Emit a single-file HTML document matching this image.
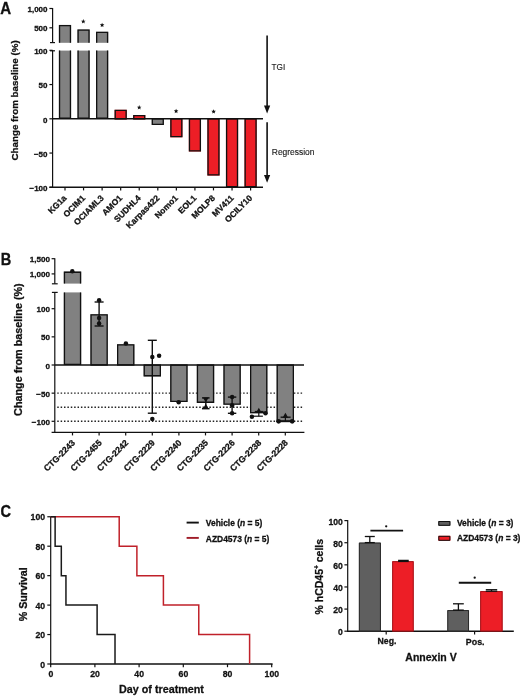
<!DOCTYPE html>
<html><head><meta charset="utf-8"><title>Figure</title>
<style>html,body{margin:0;padding:0;background:#fff;overflow:hidden;}svg{display:block;font-family:"Liberation Sans", Arial, sans-serif;}text{stroke:#111;stroke-width:0.28px;}</style>
</head><body>
<svg width="520" height="697" viewBox="0 0 520 697">
<rect width="520" height="697" fill="#fff"/>
<text font-size="14.6" font-weight="bold" fill="#111" transform="translate(0.3,13.8) scale(1.03,1.1)">A</text>
<text font-size="9.8" font-weight="bold" text-anchor="middle" fill="#111" transform="translate(18.2,100.4) rotate(-90)">Change from baseline (%)</text>
<line x1="52.6" y1="7.9" x2="52.6" y2="42.6" stroke="#111" stroke-width="1.2" />
<line x1="49.4" y1="8.5" x2="52.6" y2="8.5" stroke="#111" stroke-width="1.2" />
<text x="47.5" y="11.9" font-size="8.0" font-weight="bold" text-anchor="end" fill="#111" >1,000</text>
<line x1="49.4" y1="27.8" x2="52.6" y2="27.8" stroke="#111" stroke-width="1.2" />
<text x="47.5" y="31.2" font-size="8.0" font-weight="bold" text-anchor="end" fill="#111" >500</text>
<line x1="50" y1="42.6" x2="55" y2="42.6" stroke="#111" stroke-width="1.2" />
<line x1="52.6" y1="50.2" x2="52.6" y2="187.9" stroke="#111" stroke-width="1.2" />
<line x1="50" y1="50.8" x2="55" y2="50.8" stroke="#111" stroke-width="1.2" />
<line x1="49.4" y1="50.3" x2="52.6" y2="50.3" stroke="#111" stroke-width="1.2" />
<text x="47.5" y="54" font-size="8.0" font-weight="bold" text-anchor="end" fill="#111" >100</text>
<line x1="49.4" y1="84.55" x2="52.6" y2="84.55" stroke="#111" stroke-width="1.2" />
<text x="47.5" y="88.25" font-size="8.0" font-weight="bold" text-anchor="end" fill="#111" >50</text>
<line x1="49.4" y1="118.8" x2="52.6" y2="118.8" stroke="#111" stroke-width="1.2" />
<text x="47.5" y="122.5" font-size="8.0" font-weight="bold" text-anchor="end" fill="#111" >0</text>
<line x1="49.4" y1="153.05" x2="52.6" y2="153.05" stroke="#111" stroke-width="1.2" />
<text x="47.5" y="156.75" font-size="8.0" font-weight="bold" text-anchor="end" fill="#111" >−50</text>
<line x1="49.4" y1="187.3" x2="52.6" y2="187.3" stroke="#111" stroke-width="1.2" />
<text x="47.5" y="191" font-size="8.0" font-weight="bold" text-anchor="end" fill="#111" >−100</text>
<rect x="58.9" y="24.9" width="12.2" height="17.9" fill="#818181"/>
<path d="M59.55,42.8 L59.55,25.55 L70.45,25.55 L70.45,42.8" fill="none" stroke="#111" stroke-width="1.3"/>
<rect x="58.9" y="50.6" width="12.2" height="68.2" fill="#818181"/>
<path d="M59.55,50.6 L59.55,118.15 L70.45,118.15 L70.45,118.15 L70.45,50.6" fill="none" stroke="#111" stroke-width="1.3"/>
<line x1="65" y1="187.3" x2="65" y2="190.4" stroke="#111" stroke-width="1.2" />
<text font-size="8.5" font-weight="bold" text-anchor="end" fill="#111" transform="translate(67.2,198.6) rotate(-45)">KG1a</text>
<rect x="77.46" y="29.4" width="12.2" height="13.4" fill="#818181"/>
<path d="M78.11,42.8 L78.11,30.05 L89.01,30.05 L89.01,42.8" fill="none" stroke="#111" stroke-width="1.3"/>
<rect x="77.46" y="50.6" width="12.2" height="68.2" fill="#818181"/>
<path d="M78.11,50.6 L78.11,118.15 L89.01,118.15 L89.01,118.15 L89.01,50.6" fill="none" stroke="#111" stroke-width="1.3"/>
<line x1="83.56" y1="187.3" x2="83.56" y2="190.4" stroke="#111" stroke-width="1.2" />
<text font-size="8.5" font-weight="bold" text-anchor="end" fill="#111" transform="translate(85.76,198.6) rotate(-45)">OCIM1</text>
<rect x="96.02" y="31.8" width="12.2" height="11" fill="#818181"/>
<path d="M96.67,42.8 L96.67,32.45 L107.57,32.45 L107.57,42.8" fill="none" stroke="#111" stroke-width="1.3"/>
<rect x="96.02" y="50.6" width="12.2" height="68.2" fill="#818181"/>
<path d="M96.67,50.6 L96.67,118.15 L107.57,118.15 L107.57,118.15 L107.57,50.6" fill="none" stroke="#111" stroke-width="1.3"/>
<line x1="102.12" y1="187.3" x2="102.12" y2="190.4" stroke="#111" stroke-width="1.2" />
<text font-size="8.5" font-weight="bold" text-anchor="end" fill="#111" transform="translate(104.32,198.6) rotate(-45)">OCIAML3</text>
<rect x="114.58" y="109.8" width="12.2" height="9.6" fill="#ed1e26"/>
<path d="M115.23,110.45 L126.13,110.45 L126.13,118.75 L115.23,118.75 Z" fill="none" stroke="#111" stroke-width="1.3"/>
<line x1="120.68" y1="187.3" x2="120.68" y2="190.4" stroke="#111" stroke-width="1.2" />
<text font-size="8.5" font-weight="bold" text-anchor="end" fill="#111" transform="translate(122.88,198.6) rotate(-45)">AMO1</text>
<rect x="133.14" y="115" width="12.2" height="4.4" fill="#ed1e26"/>
<path d="M133.79,115.65 L144.69,115.65 L144.69,118.75 L133.79,118.75 Z" fill="none" stroke="#111" stroke-width="1.3"/>
<line x1="139.24" y1="187.3" x2="139.24" y2="190.4" stroke="#111" stroke-width="1.2" />
<text font-size="8.5" font-weight="bold" text-anchor="end" fill="#111" transform="translate(141.44,198.6) rotate(-45)">SUDHL4</text>
<rect x="151.7" y="118.2" width="12.2" height="6.8" fill="#818181"/>
<path d="M152.35,118.85 L163.25,118.85 L163.25,124.35 L152.35,124.35 Z" fill="none" stroke="#111" stroke-width="1.3"/>
<line x1="157.8" y1="187.3" x2="157.8" y2="190.4" stroke="#111" stroke-width="1.2" />
<text font-size="8.5" font-weight="bold" text-anchor="end" fill="#111" transform="translate(160,198.6) rotate(-45)">Karpas422</text>
<rect x="170.26" y="118.2" width="12.2" height="19.1" fill="#ed1e26"/>
<path d="M170.91,118.85 L181.81,118.85 L181.81,136.65 L170.91,136.65 Z" fill="none" stroke="#111" stroke-width="1.3"/>
<line x1="176.36" y1="187.3" x2="176.36" y2="190.4" stroke="#111" stroke-width="1.2" />
<text font-size="8.5" font-weight="bold" text-anchor="end" fill="#111" transform="translate(178.56,198.6) rotate(-45)">Nomo1</text>
<rect x="188.82" y="118.2" width="12.2" height="33.3" fill="#ed1e26"/>
<path d="M189.47,118.85 L200.37,118.85 L200.37,150.85 L189.47,150.85 Z" fill="none" stroke="#111" stroke-width="1.3"/>
<line x1="194.92" y1="187.3" x2="194.92" y2="190.4" stroke="#111" stroke-width="1.2" />
<text font-size="8.5" font-weight="bold" text-anchor="end" fill="#111" transform="translate(197.12,198.6) rotate(-45)">EOL1</text>
<rect x="207.38" y="118.2" width="12.2" height="57.4" fill="#ed1e26"/>
<path d="M208.03,118.85 L218.93,118.85 L218.93,174.95 L208.03,174.95 Z" fill="none" stroke="#111" stroke-width="1.3"/>
<line x1="213.48" y1="187.3" x2="213.48" y2="190.4" stroke="#111" stroke-width="1.2" />
<text font-size="8.5" font-weight="bold" text-anchor="end" fill="#111" transform="translate(215.68,198.6) rotate(-45)">MOLP8</text>
<rect x="225.94" y="118.2" width="12.2" height="69.2" fill="#ed1e26"/>
<path d="M226.59,118.85 L237.49,118.85 L237.49,186.75 L226.59,186.75 Z" fill="none" stroke="#111" stroke-width="1.3"/>
<line x1="232.04" y1="187.3" x2="232.04" y2="190.4" stroke="#111" stroke-width="1.2" />
<text font-size="8.5" font-weight="bold" text-anchor="end" fill="#111" transform="translate(234.24,198.6) rotate(-45)">MV411</text>
<rect x="244.5" y="118.2" width="12.2" height="69.2" fill="#ed1e26"/>
<path d="M245.15,118.85 L256.05,118.85 L256.05,186.75 L245.15,186.75 Z" fill="none" stroke="#111" stroke-width="1.3"/>
<line x1="250.6" y1="187.3" x2="250.6" y2="190.4" stroke="#111" stroke-width="1.2" />
<text font-size="8.5" font-weight="bold" text-anchor="end" fill="#111" transform="translate(252.8,198.6) rotate(-45)">OCILY10</text>
<line x1="52.6" y1="118.8" x2="263" y2="118.8" stroke="#111" stroke-width="1.4" />
<line x1="49.4" y1="187.3" x2="263" y2="187.3" stroke="#111" stroke-width="1.4" />
<polygon points="83.3,19.1 83.93,20.63 85.58,20.76 84.33,21.83 84.71,23.44 83.3,22.58 81.89,23.44 82.27,21.83 81.02,20.76 82.67,20.63" fill="#111"/>
<polygon points="102.1,22.7 102.73,24.23 104.38,24.36 103.13,25.43 103.51,27.04 102.1,26.18 100.69,27.04 101.07,25.43 99.82,24.36 101.47,24.23" fill="#111"/>
<polygon points="139.2,105.1 139.83,106.63 141.48,106.76 140.23,107.83 140.61,109.44 139.2,108.58 137.79,109.44 138.17,107.83 136.92,106.76 138.57,106.63" fill="#111"/>
<polygon points="176.1,108.8 176.73,110.33 178.38,110.46 177.13,111.53 177.51,113.14 176.1,112.28 174.69,113.14 175.07,111.53 173.82,110.46 175.47,110.33" fill="#111"/>
<polygon points="213.6,109.2 214.23,110.73 215.88,110.86 214.63,111.93 215.01,113.54 213.6,112.68 212.19,113.54 212.57,111.93 211.32,110.86 212.97,110.73" fill="#111"/>
<line x1="267.1" y1="35.4" x2="267.1" y2="108.4" stroke="#000" stroke-width="1.5" />
<polygon points="264,105.6 270.2,105.6 267.1,113.4" fill="#111"/>
<line x1="267.1" y1="122.3" x2="267.1" y2="177.8" stroke="#000" stroke-width="1.5" />
<polygon points="264,175 270.2,175 267.1,182.8" fill="#111"/>
<text x="271.6" y="69.6" font-size="8.2" font-weight="normal" text-anchor="start" fill="#222" style="stroke-width:0.12px">TGI</text>
<text x="271.8" y="154.9" font-size="8.45" font-weight="normal" text-anchor="start" fill="#222" style="stroke-width:0.12px">Regression</text>
<text font-size="14.6" font-weight="bold" fill="#111" transform="translate(0.7,264.8) scale(1,1.1)">B</text>
<text font-size="10.8" font-weight="bold" text-anchor="middle" fill="#111" transform="translate(22.4,349.6) rotate(-90)">Change from baseline (%)</text>
<line x1="54.8" y1="258.3" x2="54.8" y2="283.8" stroke="#111" stroke-width="1.2" />
<line x1="51.6" y1="258.7" x2="54.8" y2="258.7" stroke="#111" stroke-width="1.2" />
<text x="50" y="262.2" font-size="8.1" font-weight="bold" text-anchor="end" fill="#111" >1,500</text>
<line x1="51.6" y1="273.9" x2="54.8" y2="273.9" stroke="#111" stroke-width="1.2" />
<text x="50" y="277.4" font-size="8.1" font-weight="bold" text-anchor="end" fill="#111" >1,000</text>
<line x1="51.9" y1="283.8" x2="57.7" y2="283.8" stroke="#111" stroke-width="1.2" />
<line x1="54.8" y1="292.2" x2="54.8" y2="432.9" stroke="#111" stroke-width="1.2" />
<line x1="51.9" y1="292.4" x2="57.7" y2="292.4" stroke="#111" stroke-width="1.2" />
<line x1="51.6" y1="308.7" x2="54.8" y2="308.7" stroke="#111" stroke-width="1.2" />
<text x="50" y="312.2" font-size="8.1" font-weight="bold" text-anchor="end" fill="#111" >100</text>
<line x1="51.6" y1="336.85" x2="54.8" y2="336.85" stroke="#111" stroke-width="1.2" />
<text x="50" y="340.35" font-size="8.1" font-weight="bold" text-anchor="end" fill="#111" >50</text>
<line x1="51.6" y1="365" x2="54.8" y2="365" stroke="#111" stroke-width="1.2" />
<text x="50" y="368.5" font-size="8.1" font-weight="bold" text-anchor="end" fill="#111" >0</text>
<line x1="51.6" y1="393.15" x2="54.8" y2="393.15" stroke="#111" stroke-width="1.2" />
<text x="50" y="396.65" font-size="8.1" font-weight="bold" text-anchor="end" fill="#111" >−50</text>
<line x1="51.6" y1="421.3" x2="54.8" y2="421.3" stroke="#111" stroke-width="1.2" />
<text x="50" y="424.8" font-size="8.1" font-weight="bold" text-anchor="end" fill="#111" >−100</text>
<line x1="57.25" y1="393.15" x2="304" y2="393.15" stroke="#222" stroke-width="1.4" stroke-dasharray="1.5,1.88"/>
<line x1="57.25" y1="407.23" x2="304" y2="407.23" stroke="#222" stroke-width="1.4" stroke-dasharray="1.5,1.88"/>
<line x1="57.25" y1="421.3" x2="304" y2="421.3" stroke="#222" stroke-width="1.4" stroke-dasharray="1.5,1.88"/>
<rect x="63.8" y="271.6" width="17.4" height="12" fill="#818181"/>
<path d="M64.45,283.6 L64.45,272.25 L80.55,272.25 L80.55,283.6" fill="none" stroke="#111" stroke-width="1.3"/>
<rect x="63.8" y="292.4" width="17.4" height="72.6" fill="#818181"/>
<path d="M64.45,292.4 L64.45,364.35 L80.55,364.35 L80.55,364.35 L80.55,292.4" fill="none" stroke="#111" stroke-width="1.3"/>
<line x1="72.5" y1="432.4" x2="72.5" y2="435.4" stroke="#111" stroke-width="1.2" />
<text font-size="8.6" font-weight="bold" text-anchor="end" fill="#111" transform="translate(75.7,443.4) rotate(-45)">CTG-2243</text>
<rect x="90.4" y="314.2" width="17.4" height="51.4" fill="#818181"/>
<path d="M91.05,314.85 L107.15,314.85 L107.15,364.95 L91.05,364.95 Z" fill="none" stroke="#111" stroke-width="1.3"/>
<line x1="99.1" y1="432.4" x2="99.1" y2="435.4" stroke="#111" stroke-width="1.2" />
<text font-size="8.6" font-weight="bold" text-anchor="end" fill="#111" transform="translate(102.3,443.4) rotate(-45)">CTG-2455</text>
<rect x="117" y="344.2" width="17.4" height="21.4" fill="#818181"/>
<path d="M117.65,344.85 L133.75,344.85 L133.75,364.95 L117.65,364.95 Z" fill="none" stroke="#111" stroke-width="1.3"/>
<line x1="125.7" y1="432.4" x2="125.7" y2="435.4" stroke="#111" stroke-width="1.2" />
<text font-size="8.6" font-weight="bold" text-anchor="end" fill="#111" transform="translate(128.9,443.4) rotate(-45)">CTG-2242</text>
<rect x="143.6" y="364.4" width="17.4" height="12" fill="#818181"/>
<path d="M144.25,365.05 L160.35,365.05 L160.35,375.75 L144.25,375.75 Z" fill="none" stroke="#111" stroke-width="1.3"/>
<line x1="152.3" y1="432.4" x2="152.3" y2="435.4" stroke="#111" stroke-width="1.2" />
<text font-size="8.6" font-weight="bold" text-anchor="end" fill="#111" transform="translate(155.5,443.4) rotate(-45)">CTG-2229</text>
<rect x="170.2" y="364.4" width="17.4" height="37.6" fill="#818181"/>
<path d="M170.85,365.05 L186.95,365.05 L186.95,401.35 L170.85,401.35 Z" fill="none" stroke="#111" stroke-width="1.3"/>
<line x1="178.9" y1="432.4" x2="178.9" y2="435.4" stroke="#111" stroke-width="1.2" />
<text font-size="8.6" font-weight="bold" text-anchor="end" fill="#111" transform="translate(182.1,443.4) rotate(-45)">CTG-2240</text>
<rect x="196.8" y="364.4" width="17.4" height="38.5" fill="#818181"/>
<path d="M197.45,365.05 L213.55,365.05 L213.55,402.25 L197.45,402.25 Z" fill="none" stroke="#111" stroke-width="1.3"/>
<line x1="205.5" y1="432.4" x2="205.5" y2="435.4" stroke="#111" stroke-width="1.2" />
<text font-size="8.6" font-weight="bold" text-anchor="end" fill="#111" transform="translate(208.7,443.4) rotate(-45)">CTG-2235</text>
<rect x="223.4" y="364.4" width="17.4" height="40.4" fill="#818181"/>
<path d="M224.05,365.05 L240.15,365.05 L240.15,404.15 L224.05,404.15 Z" fill="none" stroke="#111" stroke-width="1.3"/>
<line x1="232.1" y1="432.4" x2="232.1" y2="435.4" stroke="#111" stroke-width="1.2" />
<text font-size="8.6" font-weight="bold" text-anchor="end" fill="#111" transform="translate(235.3,443.4) rotate(-45)">CTG-2226</text>
<rect x="250" y="364.4" width="17.4" height="48.9" fill="#818181"/>
<path d="M250.65,365.05 L266.75,365.05 L266.75,412.65 L250.65,412.65 Z" fill="none" stroke="#111" stroke-width="1.3"/>
<line x1="258.7" y1="432.4" x2="258.7" y2="435.4" stroke="#111" stroke-width="1.2" />
<text font-size="8.6" font-weight="bold" text-anchor="end" fill="#111" transform="translate(261.9,443.4) rotate(-45)">CTG-2238</text>
<rect x="276.6" y="364.4" width="17.4" height="57.5" fill="#818181"/>
<path d="M277.25,365.05 L293.35,365.05 L293.35,421.25 L277.25,421.25 Z" fill="none" stroke="#111" stroke-width="1.3"/>
<line x1="285.3" y1="432.4" x2="285.3" y2="435.4" stroke="#111" stroke-width="1.2" />
<text font-size="8.6" font-weight="bold" text-anchor="end" fill="#111" transform="translate(288.5,443.4) rotate(-45)">CTG-2228</text>
<line x1="54.8" y1="365" x2="304" y2="365" stroke="#111" stroke-width="1.4" />
<line x1="51.6" y1="432.4" x2="304.4" y2="432.4" stroke="#111" stroke-width="1.4" />
<circle cx="72.3" cy="271.3" r="2.25" fill="#111"/>
<line x1="99.1" y1="302" x2="99.1" y2="326" stroke="#111" stroke-width="1.4" />
<line x1="94.6" y1="302" x2="103.6" y2="302" stroke="#111" stroke-width="1.4" />
<line x1="94.6" y1="326" x2="103.6" y2="326" stroke="#111" stroke-width="1.4" />
<circle cx="99.1" cy="300.2" r="2.25" fill="#111"/>
<circle cx="99.1" cy="318.1" r="2.25" fill="#111"/>
<circle cx="99.1" cy="323.4" r="2.25" fill="#111"/>
<circle cx="125.9" cy="343.5" r="2.25" fill="#111"/>
<line x1="152.3" y1="340.3" x2="152.3" y2="413.2" stroke="#111" stroke-width="1.4" />
<line x1="147.8" y1="340.3" x2="156.8" y2="340.3" stroke="#111" stroke-width="1.4" />
<line x1="147.8" y1="413.2" x2="156.8" y2="413.2" stroke="#111" stroke-width="1.4" />
<circle cx="152.3" cy="357" r="2.25" fill="#111"/>
<circle cx="159.1" cy="355.8" r="2.25" fill="#111"/>
<circle cx="152.3" cy="418.9" r="2.25" fill="#111"/>
<circle cx="178.7" cy="402.2" r="2.25" fill="#111"/>
<line x1="205.8" y1="397.9" x2="205.8" y2="408.7" stroke="#111" stroke-width="1.4" />
<line x1="202" y1="397.9" x2="209.6" y2="397.9" stroke="#111" stroke-width="1.4" />
<line x1="202" y1="408.7" x2="209.6" y2="408.7" stroke="#111" stroke-width="1.4" />
<polygon points="202.9,397.43 208.7,397.43 205.8,402.5" fill="#111"/>
<polygon points="202.9,408.78 208.7,408.78 205.8,403.7" fill="#111"/>
<line x1="232.1" y1="397.1" x2="232.1" y2="413.3" stroke="#111" stroke-width="1.4" />
<line x1="227.9" y1="397.1" x2="236.3" y2="397.1" stroke="#111" stroke-width="1.4" />
<line x1="227.9" y1="413.3" x2="236.3" y2="413.3" stroke="#111" stroke-width="1.4" />
<circle cx="232.1" cy="397.1" r="2.25" fill="#111"/>
<circle cx="232.1" cy="405.2" r="2.25" fill="#111"/>
<circle cx="232.1" cy="413.3" r="2.25" fill="#111"/>
<line x1="258.8" y1="409.5" x2="258.8" y2="416.2" stroke="#111" stroke-width="1.2" />
<line x1="254.8" y1="411.5" x2="263.5" y2="411.5" stroke="#111" stroke-width="1.2" />
<line x1="251.3" y1="416.2" x2="262.9" y2="416.2" stroke="#111" stroke-width="1.2" />
<polygon points="256,412.7 261.6,412.7 258.8,407.8" fill="#111"/>
<circle cx="251.9" cy="416.7" r="2.25" fill="#111"/>
<circle cx="265.5" cy="413.3" r="2.25" fill="#111"/>
<line x1="285.4" y1="415" x2="285.4" y2="421.5" stroke="#111" stroke-width="1.2" />
<line x1="280.6" y1="417.2" x2="290.6" y2="417.2" stroke="#111" stroke-width="1.4" />
<line x1="278.6" y1="421.3" x2="292.2" y2="421.3" stroke="#111" stroke-width="1.8" />
<polygon points="282.6,417.7 288.2,417.7 285.4,412.8" fill="#111"/>
<circle cx="278.6" cy="421.3" r="2.4" fill="#111"/>
<circle cx="292.2" cy="421.3" r="2.4" fill="#111"/>
<text font-size="14.6" font-weight="bold" fill="#111" transform="translate(0.5,516.9) scale(1,1.1)">C</text>
<line x1="50.7" y1="516.4" x2="50.7" y2="664.6" stroke="#111" stroke-width="1.2" />
<line x1="47.3" y1="664" x2="50.7" y2="664" stroke="#111" stroke-width="1.2" />
<text x="45.1" y="667.5" font-size="8.7" font-weight="bold" text-anchor="end" fill="#111" >0</text>
<line x1="47.3" y1="634.55" x2="50.7" y2="634.55" stroke="#111" stroke-width="1.2" />
<text x="45.1" y="638.05" font-size="8.7" font-weight="bold" text-anchor="end" fill="#111" >20</text>
<line x1="47.3" y1="605.1" x2="50.7" y2="605.1" stroke="#111" stroke-width="1.2" />
<text x="45.1" y="608.6" font-size="8.7" font-weight="bold" text-anchor="end" fill="#111" >40</text>
<line x1="47.3" y1="575.65" x2="50.7" y2="575.65" stroke="#111" stroke-width="1.2" />
<text x="45.1" y="579.15" font-size="8.7" font-weight="bold" text-anchor="end" fill="#111" >60</text>
<line x1="47.3" y1="546.2" x2="50.7" y2="546.2" stroke="#111" stroke-width="1.2" />
<text x="45.1" y="549.7" font-size="8.7" font-weight="bold" text-anchor="end" fill="#111" >80</text>
<line x1="47.3" y1="516.75" x2="50.7" y2="516.75" stroke="#111" stroke-width="1.2" />
<text x="45.1" y="520.25" font-size="8.7" font-weight="bold" text-anchor="end" fill="#111" >100</text>
<line x1="50.1" y1="664" x2="272.6" y2="664" stroke="#111" stroke-width="1.4" />
<line x1="50.7" y1="664" x2="50.7" y2="667.2" stroke="#111" stroke-width="1.2" />
<text x="50.8" y="677.3" font-size="8.7" font-weight="bold" text-anchor="middle" fill="#111" >0</text>
<line x1="94.9" y1="664" x2="94.9" y2="667.2" stroke="#111" stroke-width="1.2" />
<text x="95" y="677.3" font-size="8.7" font-weight="bold" text-anchor="middle" fill="#111" >20</text>
<line x1="139.1" y1="664" x2="139.1" y2="667.2" stroke="#111" stroke-width="1.2" />
<text x="139.2" y="677.3" font-size="8.7" font-weight="bold" text-anchor="middle" fill="#111" >40</text>
<line x1="183.3" y1="664" x2="183.3" y2="667.2" stroke="#111" stroke-width="1.2" />
<text x="183.4" y="677.3" font-size="8.7" font-weight="bold" text-anchor="middle" fill="#111" >60</text>
<line x1="227.5" y1="664" x2="227.5" y2="667.2" stroke="#111" stroke-width="1.2" />
<text x="227.6" y="677.3" font-size="8.7" font-weight="bold" text-anchor="middle" fill="#111" >80</text>
<line x1="271.7" y1="664" x2="271.7" y2="667.2" stroke="#111" stroke-width="1.2" />
<text x="271.8" y="677.3" font-size="8.7" font-weight="bold" text-anchor="middle" fill="#111" >100</text>
<text font-size="10.7" font-weight="bold" text-anchor="middle" fill="#111" transform="translate(26.6,594.3) rotate(-90)">% Survival</text>
<text x="161.5" y="692.6" font-size="10.75" font-weight="bold" text-anchor="middle" fill="#111" >Day of treatment</text>
<polyline points="50.7,516.75 119.21,516.75 119.21,546.2 136.89,546.2 136.89,575.65 163.41,575.65 163.41,605.1 198.77,605.1 198.77,634.55 249.6,634.55 249.6,664" fill="none" stroke="#c0212a" stroke-width="1.5"/>
<polyline points="50.7,516.75 55.12,516.75 55.12,546.2 61.31,546.2 61.31,575.65 65.95,575.65 65.95,605.1 97.11,605.1 97.11,634.55 115.01,634.55 115.01,664" fill="none" stroke="#1a1a1a" stroke-width="1.5"/>
<line x1="186.6" y1="522.6" x2="198.8" y2="522.6" stroke="#111" stroke-width="1.9" />
<line x1="186.6" y1="537.9" x2="198.8" y2="537.9" stroke="#a01c28" stroke-width="1.9" />
<text x="205.8" y="525.9" font-size="8.45" font-weight="bold" text-anchor="start" fill="#111" >Vehicle (<tspan font-style="italic">n</tspan> = 5)</text>
<text x="205.8" y="541.6" font-size="8.45" font-weight="bold" text-anchor="start" fill="#111" >AZD4573 (<tspan font-style="italic">n</tspan> = 5)</text>
<line x1="347.7" y1="520" x2="347.7" y2="631.8" stroke="#111" stroke-width="1.2" />
<line x1="344.4" y1="631.2" x2="347.7" y2="631.2" stroke="#111" stroke-width="1.2" />
<text x="342.9" y="635.3" font-size="8.6" font-weight="bold" text-anchor="end" fill="#111" >0</text>
<line x1="344.4" y1="609.08" x2="347.7" y2="609.08" stroke="#111" stroke-width="1.2" />
<text x="342.9" y="613.18" font-size="8.6" font-weight="bold" text-anchor="end" fill="#111" >20</text>
<line x1="344.4" y1="586.96" x2="347.7" y2="586.96" stroke="#111" stroke-width="1.2" />
<text x="342.9" y="591.06" font-size="8.6" font-weight="bold" text-anchor="end" fill="#111" >40</text>
<line x1="344.4" y1="564.84" x2="347.7" y2="564.84" stroke="#111" stroke-width="1.2" />
<text x="342.9" y="568.94" font-size="8.6" font-weight="bold" text-anchor="end" fill="#111" >60</text>
<line x1="344.4" y1="542.72" x2="347.7" y2="542.72" stroke="#111" stroke-width="1.2" />
<text x="342.9" y="546.82" font-size="8.6" font-weight="bold" text-anchor="end" fill="#111" >80</text>
<line x1="344.4" y1="520.6" x2="347.7" y2="520.6" stroke="#111" stroke-width="1.2" />
<text x="342.9" y="524.7" font-size="8.6" font-weight="bold" text-anchor="end" fill="#111" >100</text>
<line x1="347.1" y1="631.2" x2="513.8" y2="631.2" stroke="#111" stroke-width="1.4" />
<rect x="358.9" y="542.6" width="22" height="88.8" fill="#5f5f5f"/>
<path d="M359.35,543.05 L380.45,543.05 L380.45,630.95 L359.35,630.95 Z" fill="none" stroke="#222" stroke-width="0.9"/>
<rect x="392.2" y="561.2" width="21.5" height="70.2" fill="#ed1e26"/>
<path d="M392.65,561.65 L413.25,561.65 L413.25,630.95 L392.65,630.95 Z" fill="none" stroke="#9a1218" stroke-width="0.9"/>
<rect x="447.3" y="610.1" width="21.7" height="21.3" fill="#5f5f5f"/>
<path d="M447.75,610.55 L468.55,610.55 L468.55,630.95 L447.75,630.95 Z" fill="none" stroke="#222" stroke-width="0.9"/>
<rect x="480.2" y="591.1" width="22.4" height="40.3" fill="#ed1e26"/>
<path d="M480.65,591.55 L502.15,591.55 L502.15,630.95 L480.65,630.95 Z" fill="none" stroke="#9a1218" stroke-width="0.9"/>
<line x1="369.8" y1="536.5" x2="369.8" y2="542.6" stroke="#111" stroke-width="1.3" />
<line x1="364.8" y1="536.5" x2="374.8" y2="536.5" stroke="#111" stroke-width="1.3" />
<line x1="364.8" y1="542.6" x2="374.8" y2="542.6" stroke="#111" stroke-width="1.3" />
<line x1="403.4" y1="560.4" x2="403.4" y2="561.4" stroke="#111" stroke-width="1.3" />
<line x1="398.1" y1="560.4" x2="408.7" y2="560.4" stroke="#111" stroke-width="1.3" />
<line x1="398.1" y1="561.4" x2="408.7" y2="561.4" stroke="#111" stroke-width="1.3" />
<line x1="458.4" y1="603.8" x2="458.4" y2="610.1" stroke="#111" stroke-width="1.3" />
<line x1="453" y1="603.8" x2="463.8" y2="603.8" stroke="#111" stroke-width="1.3" />
<line x1="453" y1="610.1" x2="463.8" y2="610.1" stroke="#111" stroke-width="1.3" />
<line x1="491.5" y1="589.7" x2="491.5" y2="591.2" stroke="#111" stroke-width="1.3" />
<line x1="485.8" y1="589.7" x2="497.2" y2="589.7" stroke="#111" stroke-width="1.3" />
<line x1="485.8" y1="591.2" x2="497.2" y2="591.2" stroke="#111" stroke-width="1.3" />
<line x1="370.4" y1="530.6" x2="403.1" y2="530.6" stroke="#111" stroke-width="1.9" />
<line x1="458.8" y1="582.8" x2="491.2" y2="582.8" stroke="#111" stroke-width="1.9" />
<circle cx="386.2" cy="526.3" r="1.15" fill="#111"/>
<circle cx="474.7" cy="577.7" r="1.15" fill="#111"/>
<line x1="386.2" y1="631.2" x2="386.2" y2="634.4" stroke="#111" stroke-width="1.2" />
<line x1="474.6" y1="631.2" x2="474.6" y2="634.4" stroke="#111" stroke-width="1.2" />
<text x="387" y="644.4" font-size="8.7" font-weight="bold" text-anchor="middle" fill="#111" >Neg.</text>
<text x="475.2" y="644.5" font-size="8.9" font-weight="bold" text-anchor="middle" fill="#111" >Pos.</text>
<text x="431" y="661.1" font-size="10.5" font-weight="bold" text-anchor="middle" fill="#111" >Annexin V</text>
<text font-size="10.5" font-weight="bold" text-anchor="middle" fill="#111" transform="translate(323,576.7) rotate(-90)">% hCD45<tspan font-size="6.5" dy="-4">+</tspan><tspan dy="4"> cells</tspan></text>
<rect x="438.3" y="521" width="12.1" height="4.8" fill="#5f5f5f"/>
<path d="M438.8,521.5 L449.9,521.5 L449.9,525.3 L438.8,525.3 Z" fill="none" stroke="#111" stroke-width="1.0"/>
<rect x="438.3" y="535.8" width="12.1" height="5" fill="#ed1e26"/>
<path d="M438.8,536.3 L449.9,536.3 L449.9,540.3 L438.8,540.3 Z" fill="none" stroke="#111" stroke-width="1.0"/>
<text x="456.9" y="526.2" font-size="8.45" font-weight="bold" text-anchor="start" fill="#111" >Vehicle (<tspan font-style="italic">n</tspan> = 3)</text>
<text x="456.9" y="541.2" font-size="8.45" font-weight="bold" text-anchor="start" fill="#111" >AZD4573 (<tspan font-style="italic">n</tspan> = 3)</text>
</svg>
</body></html>
